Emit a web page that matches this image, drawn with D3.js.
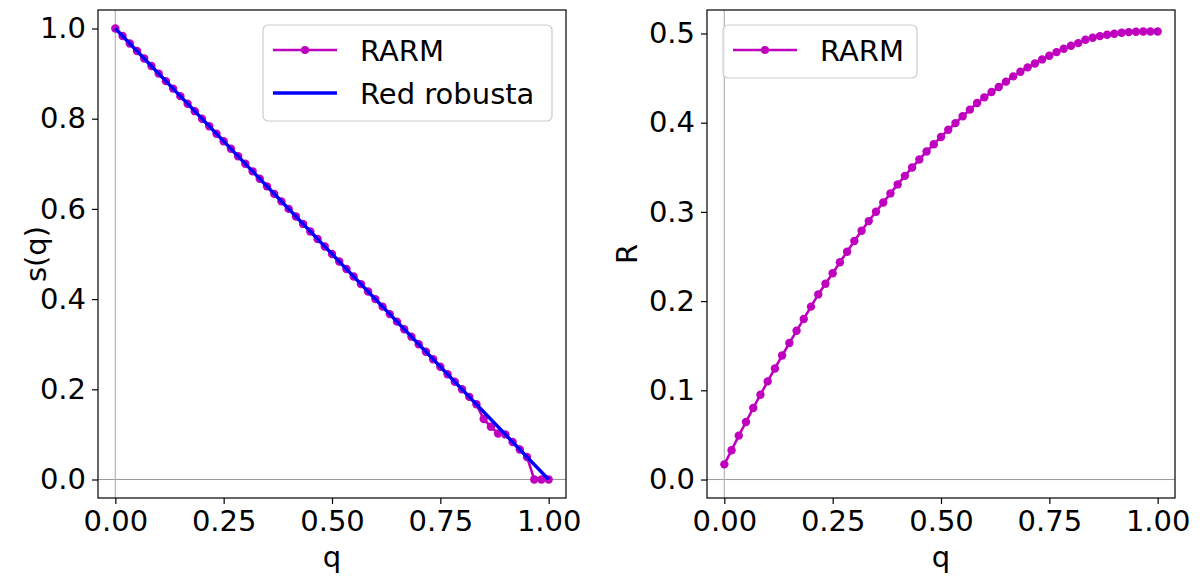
<!DOCTYPE html>
<html>
<head>
<meta charset="utf-8">
<script src="https://cdn.jsdelivr.net/npm/d3@7"></script>
<style>
  body { margin: 0; background: #ffffff; }
  svg text { font-family: "DejaVu Sans", sans-serif; fill: #000000; }
</style>
</head>
<body>
<div id="chart"></div>
<script>
/** q grid, shared by both panels */
var qValues = [0, 0.0167, 0.0333, 0.05, 0.0667, 0.0833, 0.1, 0.1167, 0.1333, 0.15, 0.1667, 0.1833, 0.2,
  0.2167, 0.2333, 0.25, 0.2667, 0.2833, 0.3, 0.3167, 0.3333, 0.35, 0.3667, 0.3833, 0.4, 0.4167, 0.4333,
  0.45, 0.4667, 0.4833, 0.5, 0.5167, 0.5333, 0.55, 0.5667, 0.5833, 0.6, 0.6167, 0.6333, 0.65, 0.6667,
  0.6833, 0.7, 0.7167, 0.7333, 0.75, 0.7667, 0.7833, 0.8, 0.8167, 0.8333, 0.85, 0.8667, 0.8833, 0.9,
  0.9167, 0.9333, 0.95, 0.9667, 0.9833, 1];

/** s(q) of RARM (left panel) */
var sRarm = [1, 0.9833, 0.9667, 0.95, 0.9333, 0.9167, 0.9, 0.8833, 0.8667, 0.85, 0.8333, 0.8167, 0.8,
  0.7833, 0.7667, 0.75, 0.7333, 0.7167, 0.7, 0.6833, 0.6667, 0.65, 0.6333, 0.6167, 0.6, 0.5833, 0.5667,
  0.55, 0.5333, 0.5167, 0.5, 0.4833, 0.4667, 0.45, 0.4333, 0.4167, 0.4, 0.3833, 0.3667, 0.35, 0.3333,
  0.3167, 0.3, 0.2833, 0.2667, 0.25, 0.2333, 0.2167, 0.2, 0.1833, 0.1667, 0.134, 0.117, 0.102, 0.1,
  0.0833, 0.0667, 0.05, 0, 0, 0];

/** s(q) of the robust network: straight line */
var qRobusta = [0, 1];
var sRobusta = [1, 0];

/** R of RARM (right panel) */
var rRarm = [0.017, 0.0328, 0.0492, 0.0645, 0.0802, 0.0951, 0.11, 0.1245, 0.139, 0.153, 0.1667, 0.18,
  0.1938, 0.2075, 0.2195, 0.2312, 0.2435, 0.2554, 0.2673, 0.2789, 0.2897, 0.3001, 0.3106, 0.3207,
  0.3308, 0.3404, 0.3498, 0.3587, 0.3677, 0.3758, 0.384, 0.392, 0.3995, 0.4072, 0.4146, 0.422, 0.4284,
  0.4344, 0.44, 0.446, 0.4519, 0.4571, 0.462, 0.4664, 0.4709, 0.475, 0.4791, 0.4828, 0.4862, 0.4892,
  0.493, 0.4952, 0.497, 0.4985, 0.4997, 0.5008, 0.5015, 0.5019, 0.5022, 0.5022, 0.5022];

var qTicks = [0, 0.25, 0.5, 0.75, 1];
var sTicks = [0, 0.2, 0.4, 0.6, 0.8, 1];
var rTicks = [0, 0.1, 0.2, 0.3, 0.4, 0.5];

var MAGENTA = "#bf00bf";
var BLUE = "#0000ff";
var FONT = 29;

var svg = d3.select("#chart").append("svg")
  .attr("width", 1200)
  .attr("height", 578);

/**
 * @constructor
 * @param {Object} box Pixel box of the axes frame.
 * @param {Array} yDomain Limits of the y axis.
 */
var linePanel = function(box, yDomain)
{
  this.box = box;
  this.x = d3.scaleLinear().domain([-0.04, 1.04]).range([box.left, box.right]);
  this.y = d3.scaleLinear().domain(yDomain).range([box.bottom, box.top]);
  this.g = svg.append("g");
}

/**
 * @desc Thin gray lines at q = 0 and y = 0.
 */
linePanel.prototype.drawZeroLines = function()
{
  this.g.append("line")
    .attr("x1", this.box.left).attr("x2", this.box.right)
    .attr("y1", this.y(0)).attr("y2", this.y(0))
    .attr("stroke", "#9a9a9a").attr("stroke-width", 1);
  this.g.append("line")
    .attr("x1", this.x(0)).attr("x2", this.x(0))
    .attr("y1", this.box.top).attr("y2", this.box.bottom)
    .attr("stroke", "#b5b5b5").attr("stroke-width", 1.2);
}

/**
 * @desc Frame, ticks, tick labels and axis titles.
 */
linePanel.prototype.drawAxes = function(yTicks, yLabel, yLabelX)
{
  var b = this.box;
  var gx = this.g.append("g")
    .attr("transform", "translate(0," + b.bottom + ")")
    .call(d3.axisBottom(this.x).tickValues(qTicks).tickFormat(d3.format(".2f")).tickSize(6).tickPadding(6));
  var gy = this.g.append("g")
    .attr("transform", "translate(" + b.left + ",0)")
    .call(d3.axisLeft(this.y).tickValues(yTicks).tickFormat(d3.format(".1f")).tickSize(6).tickPadding(6));
  [gx, gy].forEach(function(a)
  {
    a.select(".domain").remove();
    a.selectAll("line").attr("stroke", "#000").attr("stroke-width", 1.2);
    a.selectAll("text").style("font-size", FONT + "px").style("font-family", "DejaVu Sans");
  });

  this.g.append("rect")
    .attr("x", b.left).attr("y", b.top)
    .attr("width", b.right - b.left).attr("height", b.bottom - b.top)
    .attr("fill", "none").attr("stroke", "#000").attr("stroke-width", 1.2);

  this.g.append("text")
    .attr("x", (b.left + b.right) / 2).attr("y", 567)
    .attr("text-anchor", "middle")
    .style("font-size", FONT + "px")
    .text("q");
  this.g.append("text")
    .attr("transform", "translate(" + yLabelX + "," + ((b.top + b.bottom) / 2) + ") rotate(-90)")
    .attr("text-anchor", "middle")
    .style("font-size", FONT + "px")
    .text(yLabel);
}

/**
 * @desc Draws one series as a line, with dots if asked.
 */
linePanel.prototype.drawSeries = function(xs, ys, color, width, radius)
{
  var scope = this;
  var pts = xs.map(function(d, i) { return [d, ys[i]]; });
  var line = d3.line()
    .x(function(d) { return scope.x(d[0]); })
    .y(function(d) { return scope.y(d[1]); });
  this.g.append("path")
    .datum(pts)
    .attr("d", line)
    .attr("fill", "none")
    .attr("stroke", color)
    .attr("stroke-width", width)
    .attr("stroke-linejoin", "round");
  if(radius > 0)
  {
    this.g.selectAll(null)
      .data(pts)
      .enter().append("circle")
        .attr("cx", function(d) { return scope.x(d[0]); })
        .attr("cy", function(d) { return scope.y(d[1]); })
        .attr("r", radius)
        .attr("fill", color);
  }
}

/**
 * @desc Legend box in the matplotlib manner.
 */
linePanel.prototype.drawLegend = function(left, top, width, entries)
{
  var rowH = 43;
  var lg = this.g.append("g").attr("transform", "translate(" + left + "," + top + ")");
  lg.append("rect")
    .attr("width", width).attr("height", 10 + rowH * entries.length)
    .attr("rx", 5).attr("ry", 5)
    .attr("fill", "#fff").attr("fill-opacity", 0.8)
    .attr("stroke", "#cccccc").attr("stroke-width", 1.2);
  entries.forEach(function(e, i)
  {
    var cy = 25 + i * rowH;
    lg.append("line")
      .attr("x1", 10).attr("x2", 74).attr("y1", cy).attr("y2", cy)
      .attr("stroke", e.color).attr("stroke-width", e.width);
    if(e.dot)
    {
      lg.append("circle").attr("cx", 42).attr("cy", cy).attr("r", 4).attr("fill", e.color);
    }
    lg.append("text")
      .attr("x", 97).attr("y", cy + 10.5)
      .style("font-size", FONT + "px")
      .text(e.label);
  });
}

/** Left panel: s(q) */
var left = new linePanel({left: 98, right: 566, top: 10, bottom: 498}, [-0.041, 1.041]);
left.drawZeroLines();
left.drawSeries(qValues, sRarm, MAGENTA, 2.6, 4.2);
left.drawSeries(qRobusta, sRobusta, BLUE, 3.4, 0);
left.drawAxes(sTicks, "s(q)", 46);
left.drawLegend(263, 25, 289, [
  {label: "RARM", color: MAGENTA, width: 2.6, dot: true},
  {label: "Red robusta", color: BLUE, width: 3.4, dot: false}
]);

/** Right panel: R */
var right = new linePanel({left: 707, right: 1175, top: 10, bottom: 498}, [-0.0207, 0.5263]);
right.drawZeroLines();
right.drawSeries(qValues, rRarm, MAGENTA, 2.6, 4.2);
right.drawAxes(rTicks, "R", 637);
right.drawLegend(723, 25, 194, [
  {label: "RARM", color: MAGENTA, width: 2.6, dot: true}
]);
</script>
</body>
</html>
